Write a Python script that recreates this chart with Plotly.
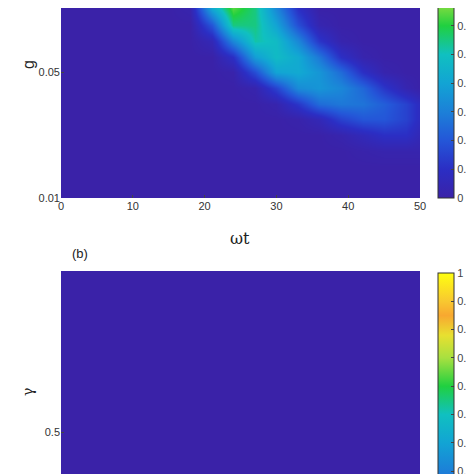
import plotly.graph_objects as go

wt = [0, 5, 10, 15, 18, 21, 24, 27, 30, 33, 36, 39, 42, 45, 48, 50]
g = [0.01, 0.02, 0.025, 0.03, 0.035, 0.04, 0.045, 0.05, 0.055, 0.06, 0.065, 0.0705]
z_top = [
    [0]*16,
    [0]*16,
    [0,0,0,0,0,0,0,0,0,0,0,0,0.01,0.02,0.02,0.02],
    [0,0,0,0,0,0,0,0,0,0,0,0.02,0.06,0.10,0.10,0.05],
    [0,0,0,0,0,0,0,0,0,0.01,0.05,0.15,0.20,0.20,0.15,0.08],
    [0,0,0,0,0,0,0,0,0.02,0.12,0.25,0.28,0.27,0.22,0.15,0.08],
    [0,0,0,0,0,0,0,0.02,0.15,0.33,0.36,0.32,0.24,0.12,0.03,0],
    [0,0,0,0,0,0,0.01,0.18,0.40,0.42,0.36,0.25,0.10,0.02,0,0],
    [0,0,0,0,0,0,0.10,0.38,0.48,0.42,0.28,0.10,0.02,0,0,0],
    [0,0,0,0,0,0.05,0.32,0.52,0.48,0.32,0.12,0.02,0,0,0,0],
    [0,0,0,0,0,0.20,0.55,0.55,0.40,0.18,0.03,0,0,0,0,0],
    [0,0,0,0,0.02,0.42,0.64,0.55,0.32,0.10,0,0,0,0,0,0],
]
wt_b = [0, 50]
gamma_b = [0.3, 1.0]
z_bot = [[0, 0], [0, 0]]

cs = [[0, '#3a22a8'], [0.1, '#2b2ec4'], [0.2, '#2456d8'], [0.3, '#1c80d8'],
      [0.4, '#12a4d4'], [0.5, '#10c0c0'], [0.6, '#20d040'], [0.7, '#a8e040'],
      [0.78, '#e8e030'], [0.85, '#f8a830'], [0.9, '#f8c830'], [1, '#ffff10']]

H = 474
cb_ticks = dict(tickvals=[0,0.1,0.2,0.3,0.4,0.5,0.6,0.7,0.8,0.9,1],
                ticktext=['0','0.1','0.2','0.3','0.4','0.5','0.6','0.7','0.8','0.9','1'],
                ticks='inside', ticklen=3, tickfont=dict(size=11, color='#444'),
                thickness=16, thicknessmode='pixels', outlinewidth=1, outlinecolor='#333',
                xpad=0, ypad=0, lenmode='pixels', x=430/474, xanchor='left')
fig = go.Figure()
fig.add_trace(go.Heatmap(x=wt, y=g, z=z_top, zsmooth='best', colorscale=cs, zmin=0, zmax=1,
    colorbar=dict(cb_ticks, y=1-190/H, yanchor='bottom', len=287)))
fig.add_trace(go.Heatmap(x=wt_b, y=gamma_b, z=z_bot, colorscale=cs, zmin=0, zmax=1, xaxis='x2', yaxis='y2',
    colorbar=dict(cb_ticks, y=1-265/H, yanchor='top', len=283)))
ax = dict(showgrid=False, zeroline=False, tickfont=dict(size=11, color='#333'), ticks='inside', ticklen=3, showline=False)
fig.update_layout(
    width=474, height=474, margin=dict(l=0, r=0, t=0, b=0, autoexpand=False), paper_bgcolor='white', plot_bgcolor='white',
    xaxis=dict(ax, domain=[53/474, 412/474], range=[0, 50], tickvals=[0,10,20,30,40,50], anchor='y', automargin=False),
    yaxis=dict(ax, domain=[1-190/H, 1], range=[0.01, 0.0705], tickvals=[0.01, 0.05], ticktext=['0.01','0.05'], anchor='x', automargin=False),
    xaxis2=dict(ax, domain=[53/474, 412/474], range=[0, 50], showticklabels=False, anchor='y2', automargin=False),
    yaxis2=dict(ax, domain=[0, 1-263/H], range=[0.345, 1], tickvals=[0.5], anchor='x2', automargin=False),
    font=dict(family='Liberation Sans'),
    annotations=[
        dict(text='ωt', x=232/474, y=1-230/H, xref='paper', yref='paper', showarrow=False, font=dict(size=16, color='#222', family='DejaVu Serif')),
        dict(text='g', x=10/474, y=1-50/H, xref='paper', yref='paper', showarrow=False, textangle=-90, font=dict(size=16, color='#222')),
        dict(text='γ', x=10/474, y=1-390/H, xref='paper', yref='paper', showarrow=False, textangle=-90, font=dict(size=14, color='#222', family='DejaVu Serif')),
        dict(text='(b)', x=62/474, y=1-245/H, xref='paper', yref='paper', showarrow=False, font=dict(size=13, color='#222')),
    ])
fig.write_html('out.html')
